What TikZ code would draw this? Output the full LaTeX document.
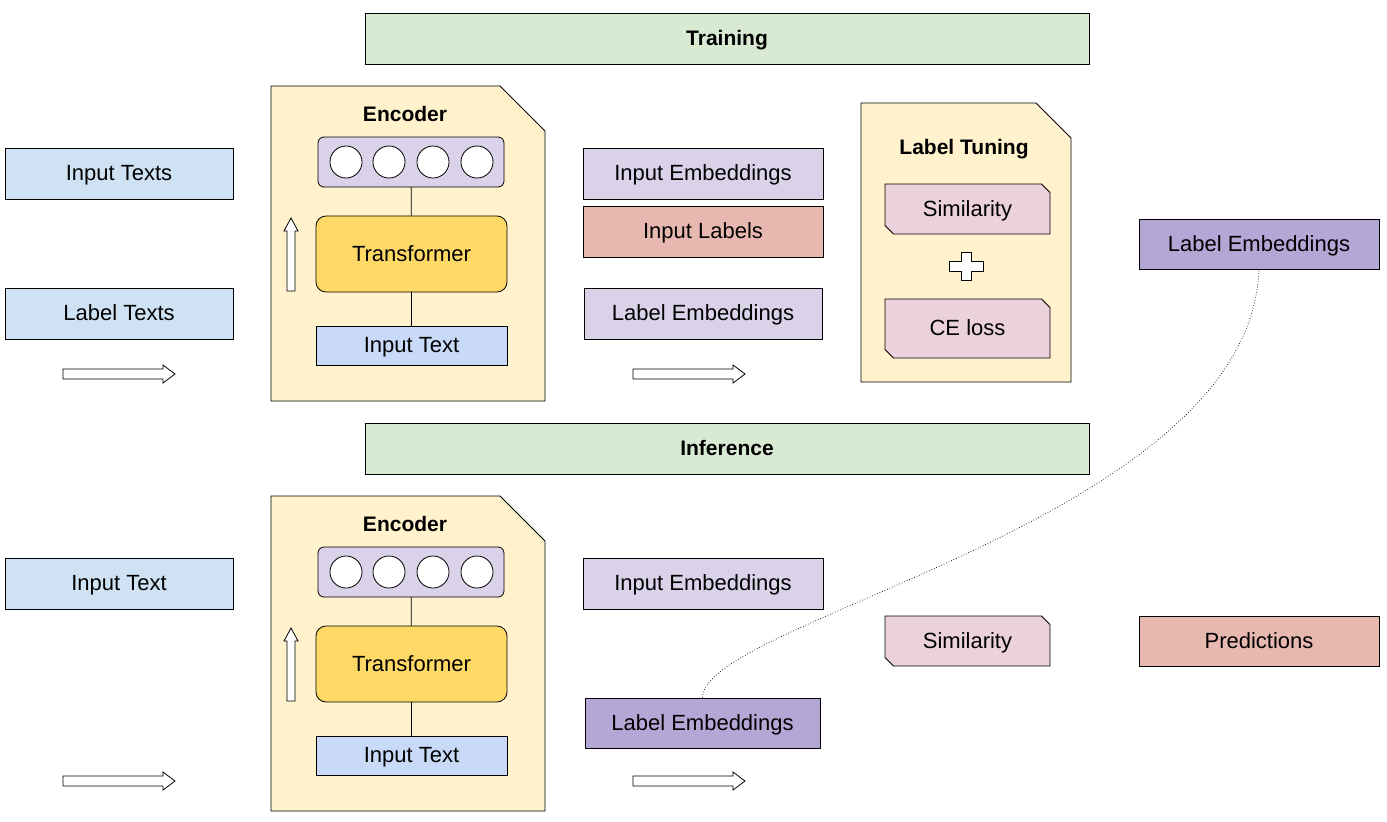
\documentclass[tikz,border=0pt]{standalone}
\usepackage{fontspec}
\setmainfont{Liberation Sans}
\usetikzlibrary{positioning,shapes.misc}
\definecolor{bargreen}{HTML}{D9EAD3}
\definecolor{txtblue}{HTML}{CFE2F3}
\definecolor{inblue}{HTML}{C9DAF8}
\definecolor{embpurple}{HTML}{D9D2E9}
\definecolor{labpurple}{HTML}{B4A7D6}
\definecolor{red}{HTML}{E6B8AF}
\definecolor{docyellow}{HTML}{FFF2CC}
\definecolor{trfyellow}{HTML}{FFD966}
\definecolor{simpink}{HTML}{EAD1DC}
\tikzset{
	every node/.style={font=\fontsize{22}{26}\selectfont, inner sep=0pt, text depth=1pt},
	title/.style={font=\fontsize{21}{26}\selectfont\bfseries},
	box/.style={draw, rectangle, minimum width=228, minimum height=51},
	bar/.style={draw, rectangle, fill=bargreen, minimum width=724, minimum height=51, title},
	doc/.style={draw, fill=docyellow},
	sim/.style={draw, chamfered rectangle, chamfered rectangle corners={north east,south west}, chamfered rectangle xsep=5, fill=simpink, minimum width=165, minimum height=50},
	hollow/.style={draw, fill=white, line width=0.8pt},
}
% hollow right arrow starting at (#1,#2)
\newcommand{\rarrow}[2]{\draw[hollow] (#1,#2-5) -- ++(100,0) -- ++(0,-4) -- ++(12,9) -- ++(-12,9) -- ++(0,-4) -- ++(-100,0) -- cycle;}
\begin{document}
\begin{tikzpicture}[x=1pt,y=-1pt,line width=0.8pt]
	\useasboundingbox (0,0) rectangle (1387,822);

	% training
	\node[bar] (train) at (727,38.5) {Training};
	\node[box, fill=txtblue] (intexts) at (119,173.5) {Input Texts};
	\node[box, fill=txtblue] (labtexts) at (119,313.5) {Label Texts};
	\rarrow{63}{374}

	\foreach \dy/\p in {0/t, 410/i} {
		\draw[doc] (271,86+\dy) -- (500,86+\dy) -- (545,131+\dy) -- (545,401+\dy) -- (271,401+\dy) -- cycle;
		\node[title] at (405,114+\dy) {Encoder};
		\node[draw, rounded corners=6, fill=embpurple, minimum width=186, minimum height=50] (cells\p) at (411,162+\dy) {};
		\foreach \cx in {346,389,433,477}
			\draw[fill=white] (\cx,162+\dy) circle (16);
		\node[draw, rounded corners=10, fill=trfyellow, minimum width=191, minimum height=76] (trf\p) at (411.5,254+\dy) {Transformer};
		\node[draw, fill=inblue, minimum width=191, minimum height=39] (intext\p) at (411.5,345.5+\dy) {Input Text};
		\draw (cells\p) -- (trf\p);
		\draw (trf\p) -- (intext\p);
		\draw[hollow] (287,291+\dy) -- (287,231+\dy) -- (284,231+\dy) -- (291,218+\dy) -- (298,231+\dy) -- (295,231+\dy) -- (295,291+\dy) -- cycle;
	}

	\node[box, minimum width=240, fill=embpurple] (inemb) at (703,173.5) {Input Embeddings};
	\node[box, minimum width=240, fill=red] (inlab) at (703,231.5) {Input Labels};
	\node[box, minimum width=238, fill=embpurple] (labemb) at (703,313.5) {Label Embeddings};
	\rarrow{633}{374}

	\draw[doc] (861,103) -- (1036,103) -- (1071,138) -- (1071,382) -- (861,382) -- cycle;
	\node[title] at (964,147) {Label Tuning};
	\node[sim] (simt) at (967.5,209) {Similarity};
	\node[sim, minimum height=59] (celoss) at (967.5,328.5) {CE loss};
	\draw[hollow] (961,252) -- (971,252) -- (971,261) -- (983,261) -- (983,271) -- (971,271) -- (971,280) -- (961,280) -- (961,271) -- (949,271) -- (949,261) -- (961,261) -- cycle;

	\node[box, minimum width=240, minimum height=50, fill=labpurple] (labembr) at (1259,244) {Label Embeddings};

	% inference
	\node[bar] (infer) at (727,448.5) {Inference};
	\node[box, fill=txtblue] (intexti) at (119,583.5) {Input Text};
	\rarrow{63}{781}
	\node[box, minimum width=240, fill=embpurple] (inembi) at (703,583.5) {Input Embeddings};
	\node[box, minimum width=235, minimum height=50, fill=labpurple] (labembi) at (702.5,723) {Label Embeddings};
	\rarrow{633}{781}
	\node[sim] (simi) at (967.5,641) {Similarity};
	\node[box, minimum width=240, minimum height=50, fill=red] (pred) at (1259,641) {Predictions};

	\draw[dotted, line width=0.7pt] (labembi.north) .. controls (703,620) and (1250,520) .. (labembr.south);
\end{tikzpicture}
\end{document}
